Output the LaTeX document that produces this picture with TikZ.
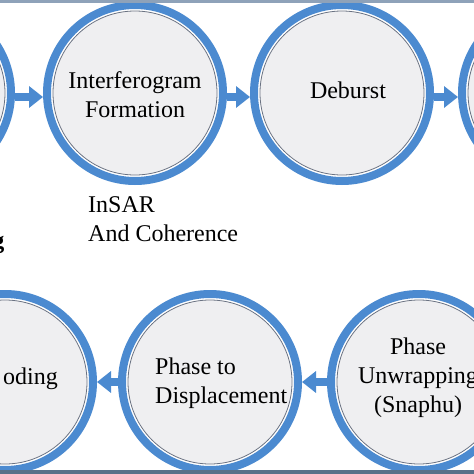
\documentclass[tikz,border=0pt]{standalone}
\usepackage{fontspec}
\setmainfont{Liberation Serif}
\usetikzlibrary{arrows.meta}

\definecolor{ringblue}{HTML}{4B8AD0}
\definecolor{discgray}{HTML}{EFEFF1}
\definecolor{edgegray}{HTML}{6A7282}
\definecolor{topbar}{HTML}{8EA2B9}
\definecolor{botbar}{HTML}{5A7088}

\tikzset{
  stage/.style={circle, draw=ringblue, line width=8pt, fill=white,
    minimum size=176pt, inner sep=0pt,
    path picture={\filldraw[fill=discgray, draw=edgegray, line width=0.8pt]
      (path picture bounding box.center) circle (82pt);}},
  flow/.style={draw=ringblue, line width=8pt, -{Triangle[length=14pt, width=21pt]}},
  words/.style={font=\fontsize{24}{29}\selectfont, inner sep=0pt},
}

\begin{document}
\begin{tikzpicture}[x=1pt, y=-1pt]
\clip (0,0) rectangle (474,474);
\fill[white] (0,0) rectangle (474,474);

% top row
\node[stage] (prev) at (-77,93) {};
\node[stage] (inf) at (135,93) {};
\node[stage] (deb) at (342,93) {};
\node[stage] (next) at (550,93) {};
\draw[flow] ([yshift=-4pt]prev.east) -- ([yshift=-4pt]inf.west);
\draw[flow] ([yshift=-4pt]inf.east) -- ([yshift=-4pt]deb.west);
\draw[flow] ([yshift=-4pt]deb.east) -- ([yshift=-4pt]next.west);
\node[words, align=center] (inftxt) at (135,95) {Interferogram\\Formation};
\node[words] (debtxt) at (348,90) {Deburst};

% labels between rows
\node[words, align=left, anchor=west] (insar) at (88,219.5) {InSAR\\And Coherence};
\node[words, anchor=base east, font=\fontsize{24}{29}\selectfont\bfseries] (cut) at (4.5,248) {g};

% bottom row
\node[stage] (geo) at (5,382) {};
\node[stage] (disp) at (210,382) {};
\node[stage] (unwrap) at (419,382) {};
\draw[flow] (unwrap.west) -- (disp.east);
\draw[flow] (disp.west) -- (geo.east);
\node[words, anchor=base east] (geotxt) at (58,384) {oding};
\node[words, align=left, anchor=west] (disptxt) at (155,383) {Phase to\\Displacement};
\node[words, align=center] (unwraptxt) at (418,378) {Phase\\Unwrapping\\(Snaphu)};

% frame bars
\fill[topbar] (0,0) rectangle (474,2.7);
\fill[botbar] (0,470) rectangle (474,474);
\end{tikzpicture}
\end{document}
